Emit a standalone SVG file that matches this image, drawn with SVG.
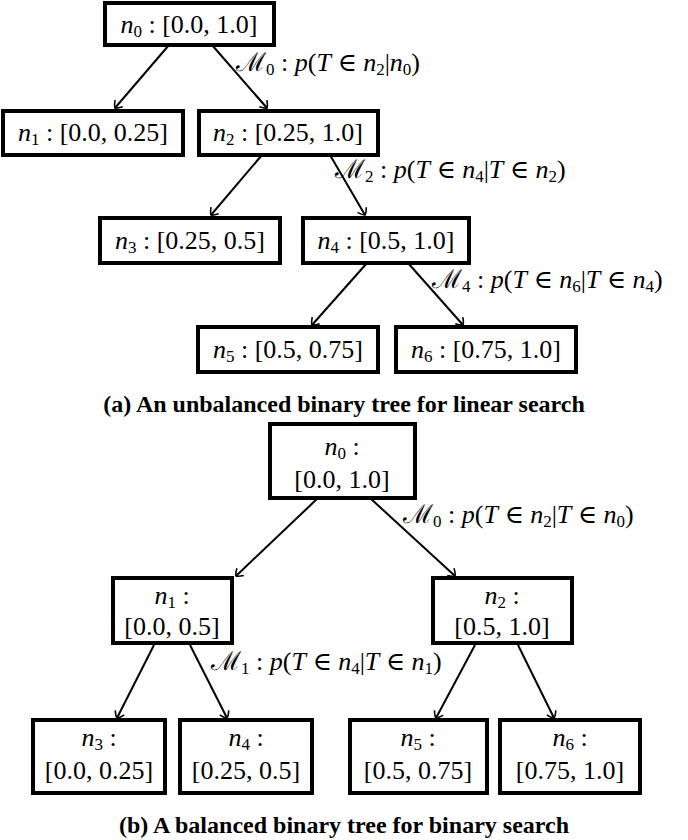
<svg xmlns="http://www.w3.org/2000/svg" width="688" height="840" viewBox="0 0 688 840">
<style>
.box{fill:#fff;stroke:#000;stroke-width:4}
.t{font-family:"Liberation Serif","DejaVu Serif",serif;font-size:26px;fill:#000;text-anchor:middle}
.l{font-family:"Liberation Serif","DejaVu Serif",serif;font-size:26px;fill:#000}
.i{font-style:italic}
.e{stroke:#000;stroke-width:2;fill:none;marker-end:url(#to)}
.cap{font-family:"Liberation Serif","DejaVu Serif",serif;font-size:24px;font-weight:bold;text-anchor:middle}
</style>
<defs>
<marker id="to" markerUnits="userSpaceOnUse" markerWidth="16" markerHeight="16" viewBox="-8 -8 16 16" refX="0" refY="0" orient="auto">
<path d="M-6,-5 Q-1,-2 0,0 Q-1,2 -6,5" stroke="#000" stroke-width="1.6" fill="none"/>
</marker>
</defs>
<g id="edges">
<line class="e" x1="169" y1="45" x2="115" y2="108"/>
<line class="e" x1="212" y1="45" x2="267" y2="108"/>
<line class="e" x1="262" y1="155" x2="211" y2="215"/>
<line class="e" x1="330" y1="155" x2="365" y2="215"/>
<line class="e" x1="367" y1="263" x2="312" y2="325"/>
<line class="e" x1="408" y1="263" x2="463" y2="325"/>
<line class="e" x1="318" y1="498" x2="236" y2="576"/>
<line class="e" x1="370" y1="498" x2="455" y2="576"/>
<line class="e" x1="154" y1="645" x2="117" y2="718"/>
<line class="e" x1="190" y1="645" x2="227" y2="718"/>
<line class="e" x1="475" y1="645" x2="436" y2="718"/>
<line class="e" x1="518" y1="645" x2="554" y2="718"/>
</g>
<g id="labels">
<text class="l" x="236" y="71"><tspan>ℳ</tspan><tspan font-size="17" dy="4">0</tspan><tspan dy="-4"> : </tspan><tspan class="i">p</tspan>(<tspan class="i">T</tspan> ∈ <tspan class="i">n</tspan><tspan font-size="17" dy="4">2</tspan><tspan dy="-4">|</tspan><tspan class="i">n</tspan><tspan font-size="17" dy="4">0</tspan><tspan dy="-4">)</tspan></text>
<text class="l" x="335" y="178"><tspan>ℳ</tspan><tspan font-size="17" dy="4">2</tspan><tspan dy="-4"> : </tspan><tspan class="i">p</tspan>(<tspan class="i">T</tspan> ∈ <tspan class="i">n</tspan><tspan font-size="17" dy="4">4</tspan><tspan dy="-4">|</tspan><tspan class="i">T</tspan> ∈ <tspan class="i">n</tspan><tspan font-size="17" dy="4">2</tspan><tspan dy="-4">)</tspan></text>
<text class="l" x="432" y="288"><tspan>ℳ</tspan><tspan font-size="17" dy="4">4</tspan><tspan dy="-4"> : </tspan><tspan class="i">p</tspan>(<tspan class="i">T</tspan> ∈ <tspan class="i">n</tspan><tspan font-size="17" dy="4">6</tspan><tspan dy="-4">|</tspan><tspan class="i">T</tspan> ∈ <tspan class="i">n</tspan><tspan font-size="17" dy="4">4</tspan><tspan dy="-4">)</tspan></text>
<text class="l" x="403" y="523"><tspan>ℳ</tspan><tspan font-size="17" dy="4">0</tspan><tspan dy="-4"> : </tspan><tspan class="i">p</tspan>(<tspan class="i">T</tspan> ∈ <tspan class="i">n</tspan><tspan font-size="17" dy="4">2</tspan><tspan dy="-4">|</tspan><tspan class="i">T</tspan> ∈ <tspan class="i">n</tspan><tspan font-size="17" dy="4">0</tspan><tspan dy="-4">)</tspan></text>
<text class="l" x="211" y="670"><tspan>ℳ</tspan><tspan font-size="17" dy="4">1</tspan><tspan dy="-4"> : </tspan><tspan class="i">p</tspan>(<tspan class="i">T</tspan> ∈ <tspan class="i">n</tspan><tspan font-size="17" dy="4">4</tspan><tspan dy="-4">|</tspan><tspan class="i">T</tspan> ∈ <tspan class="i">n</tspan><tspan font-size="17" dy="4">1</tspan><tspan dy="-4">)</tspan></text>
</g>
<g id="a_n0"><rect class="box" x="105" y="3" width="169" height="42"/><text class="t" x="189" y="33"><tspan class="i">n</tspan><tspan font-size="17" dy="4">0</tspan><tspan dy="-4"> : [0.0, 1.0]</tspan></text></g>
<g id="a_n1"><rect class="box" x="3" y="111" width="180" height="44"/><text class="t" x="93" y="141"><tspan class="i">n</tspan><tspan font-size="17" dy="4">1</tspan><tspan dy="-4"> : [0.0, 0.25]</tspan></text></g>
<g id="a_n2"><rect class="box" x="199" y="111" width="179" height="44"/><text class="t" x="288" y="141"><tspan class="i">n</tspan><tspan font-size="17" dy="4">2</tspan><tspan dy="-4"> : [0.25, 1.0]</tspan></text></g>
<g id="a_n3"><rect class="box" x="100" y="218" width="180" height="45"/><text class="t" x="190" y="249"><tspan class="i">n</tspan><tspan font-size="17" dy="4">3</tspan><tspan dy="-4"> : [0.25, 0.5]</tspan></text></g>
<g id="a_n4"><rect class="box" x="303" y="218" width="166" height="45"/><text class="t" x="386" y="249"><tspan class="i">n</tspan><tspan font-size="17" dy="4">4</tspan><tspan dy="-4"> : [0.5, 1.0]</tspan></text></g>
<g id="a_n5"><rect class="box" x="198" y="327" width="180" height="45"/><text class="t" x="288" y="358"><tspan class="i">n</tspan><tspan font-size="17" dy="4">5</tspan><tspan dy="-4"> : [0.5, 0.75]</tspan></text></g>
<g id="a_n6"><rect class="box" x="396" y="327" width="180" height="45"/><text class="t" x="486" y="358"><tspan class="i">n</tspan><tspan font-size="17" dy="4">6</tspan><tspan dy="-4"> : [0.75, 1.0]</tspan></text></g>
<text class="cap" x="344" y="412">(a) An unbalanced binary tree for linear search</text>
<g id="b_n0"><rect class="box" x="270" y="424" width="145" height="74"/><text class="t" x="342" y="455"><tspan class="i">n</tspan><tspan font-size="17" dy="4">0</tspan><tspan dy="-4"> :</tspan></text><text class="t" x="342" y="488">[0.0, 1.0]</text></g>
<g id="b_n1"><rect class="box" x="113" y="578" width="119" height="65"/><text class="t" x="172" y="604"><tspan class="i">n</tspan><tspan font-size="17" dy="4">1</tspan><tspan dy="-4"> :</tspan></text><text class="t" x="172" y="635">[0.0, 0.5]</text></g>
<g id="b_n2"><rect class="box" x="433" y="578" width="139" height="65"/><text class="t" x="502" y="604"><tspan class="i">n</tspan><tspan font-size="17" dy="4">2</tspan><tspan dy="-4"> :</tspan></text><text class="t" x="502" y="635">[0.5, 1.0]</text></g>
<g id="b_n3"><rect class="box" x="33" y="720" width="132" height="73"/><text class="t" x="99" y="746"><tspan class="i">n</tspan><tspan font-size="17" dy="4">3</tspan><tspan dy="-4"> :</tspan></text><text class="t" x="99" y="779">[0.0, 0.25]</text></g>
<g id="b_n4"><rect class="box" x="180" y="720" width="132" height="73"/><text class="t" x="246" y="746"><tspan class="i">n</tspan><tspan font-size="17" dy="4">4</tspan><tspan dy="-4"> :</tspan></text><text class="t" x="246" y="779">[0.25, 0.5]</text></g>
<g id="b_n5"><rect class="box" x="350" y="720" width="137" height="73"/><text class="t" x="418" y="746"><tspan class="i">n</tspan><tspan font-size="17" dy="4">5</tspan><tspan dy="-4"> :</tspan></text><text class="t" x="418" y="779">[0.5, 0.75]</text></g>
<g id="b_n6"><rect class="box" x="500" y="720" width="140" height="73"/><text class="t" x="570" y="746"><tspan class="i">n</tspan><tspan font-size="17" dy="4">6</tspan><tspan dy="-4"> :</tspan></text><text class="t" x="570" y="779">[0.75, 1.0]</text></g>
<text class="cap" x="344" y="833">(b) A balanced binary tree for binary search</text>
</svg>
